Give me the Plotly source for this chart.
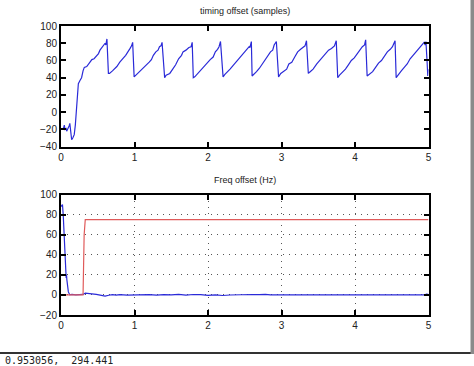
import plotly.graph_objects as go

# ---- data: timing offset (samples) ----
t_timing = [0.00, 0.02, 0.03, 0.045, 0.055, 0.07, 0.077, 0.09, 0.11, 0.12, 0.13, 0.145, 0.16, 0.18, 0.195,
            0.21, 0.225, 0.236, 0.26, 0.28, 0.30, 0.317, 0.35, 0.37, 0.40, 0.42, 0.45, 0.485, 0.51, 0.53,
            0.55, 0.575, 0.59, 0.60, 0.61, 0.625, 0.645,
            0.66, 0.70, 0.735, 0.76, 0.80, 0.825, 0.85, 0.88, 0.916, 0.94, 0.96, 0.975, 0.995,
            1.02, 1.05, 1.075, 1.10, 1.13, 1.166, 1.20, 1.23, 1.256, 1.29, 1.32, 1.34, 1.36, 1.375, 1.41,
            1.43, 1.48, 1.52, 1.56, 1.60, 1.64, 1.66, 1.70, 1.74, 1.77, 1.785, 1.80,
            1.82, 1.85, 1.88, 1.92, 1.96, 2.00, 2.03, 2.07, 2.10, 2.13, 2.15, 2.17, 2.205,
            2.23, 2.27, 2.30, 2.34, 2.38, 2.42, 2.46, 2.50, 2.53, 2.56, 2.57, 2.59, 2.60,
            2.63, 2.66, 2.70, 2.74, 2.78, 2.81, 2.85, 2.88, 2.90, 2.93, 2.96,
            2.99, 3.03, 3.07, 3.10, 3.14, 3.18, 3.22, 3.26, 3.30, 3.32, 3.34, 3.365,
            3.39, 3.43, 3.48, 3.52, 3.56, 3.60, 3.64, 3.68, 3.72, 3.745, 3.765,
            3.79, 3.83, 3.87, 3.91, 3.95, 3.99, 4.03, 4.07, 4.10, 4.13, 4.145, 4.165,
            4.20, 4.24, 4.28, 4.32, 4.36, 4.40, 4.44, 4.48, 4.51, 4.53, 4.545, 4.56,
            4.59, 4.63, 4.67, 4.71, 4.75, 4.79, 4.83, 4.87, 4.90, 4.92, 4.94, 4.955, 4.965, 4.98, 4.99, 5.00]
y_timing = [-20, -19, -20, -15, -20, -19, -22, -20, -16, -13, -22, -32, -30, -26, -15,
            -1, 20, 33, 37, 40, 48, 52, 53, 55, 58, 61, 62, 66, 68, 72,
            74, 77, 78, 80, 78, 85, 45,
            45, 48, 51, 53, 58, 61, 63, 66, 70, 74, 77, 81, 41,
            43, 45, 47, 50, 52, 55, 58, 61, 66, 70, 72, 76, 77, 81, 40,
            43, 45, 50, 55, 62, 66, 70, 72, 75, 76, 81, 40,
            41, 44, 47, 50, 55, 58, 61, 64, 70, 73, 76, 82, 41,
            44, 47, 50, 54, 58, 62, 66, 70, 73, 76, 75, 82, 42,
            44, 47, 51, 56, 62, 66, 70, 72, 78, 82, 41,
            45, 47, 50, 56, 58, 64, 70, 73, 76, 77, 83, 45,
            47, 50, 56, 60, 64, 68, 72, 74, 77, 83, 40,
            43, 46, 50, 55, 60, 63, 68, 72, 76, 78, 84, 42,
            44, 47, 52, 57, 60, 65, 70, 73, 76, 80, 83, 40,
            44, 48, 52, 56, 62, 66, 70, 74, 77, 78, 81, 78, 82, 60, 42, 50]

# ---- data: freq offset (Hz) ----
t_freq_est = [0.00, 0.02, 0.03, 0.045, 0.06, 0.065, 0.07, 0.075, 0.08, 0.09, 0.10, 0.12, 0.15, 0.20, 0.25,
              0.30, 0.33, 0.38, 0.42, 0.48, 0.55, 0.60, 0.65, 0.70, 0.75, 0.80, 0.90, 1.00, 1.10, 1.20,
              1.30, 1.40, 1.50, 1.60, 1.70, 1.80, 1.90, 2.00, 2.10, 2.20, 2.30, 2.40, 2.50, 2.60, 2.70,
              2.78, 2.85, 2.90, 3.50, 4.95, 4.97, 5.00]
y_freq_est = [88, 90, 80, 55, 30, 20, 17, 20, 15, 8, 3, 0, 0.5, 0, 0.3,
              0.5, 1.8, 1.5, 1, 0.5, -0.5, -1.2, -0.3, 0.2, -0.2, 0.3, -0.2, 0, -0.3, 0.2,
              -0.2, 0.3, 0, 0.5, -0.2, 0.4, 0.2, -0.4, 0, -0.6, -0.1, 0.3, 0.1, 0.4, 0.2,
              0.5, 0, 0, 0, 0, 0.8, 0.5]
t_freq_true = [0.00, 0.30, 0.305, 0.315, 0.33, 5.00]
y_freq_true = [0, 0, 20, 60, 75, 75]

x_ticks = [0, 1, 2, 3, 4, 5]
top_y_ticks = [-40, -20, 0, 20, 40, 60, 80, 100]
bot_y_ticks = [-20, 0, 20, 40, 60, 80, 100]

titles = ["timing offset (samples)", "Freq offset (Hz)"]
status_text = "0.953056,  294.441"

W, H = 474, 366
BLUE = "#2a2ad8"
RED = "#e05a5a"

fig = go.Figure()
fig.add_trace(go.Scatter(x=t_timing, y=y_timing, mode="lines",
                         line=dict(color=BLUE, width=1.2), xaxis="x", yaxis="y", showlegend=False))
fig.add_trace(go.Scatter(x=t_freq_est, y=y_freq_est, mode="lines",
                         line=dict(color=BLUE, width=1.2), xaxis="x2", yaxis="y2", showlegend=False))
fig.add_trace(go.Scatter(x=t_freq_true, y=y_freq_true, mode="lines",
                         line=dict(color=RED, width=1.2), xaxis="x2", yaxis="y2", showlegend=False))

xd = [61 / W, 428.5 / W]
top_dom = [1 - 146.7 / H, 1 - 26 / H]
bot_dom = [1 - 315 / H, 1 - 194.5 / H]

axis_common = dict(showline=True, linecolor="black", linewidth=2, mirror="ticks",
                   ticks="inside", ticklen=5, tickwidth=1.5, tickcolor="black",
                   tickfont=dict(family="Liberation Sans, Arial", size=10, color="#222"),
                   zeroline=False, fixedrange=True, automargin=False)

fig.update_layout(
    width=W, height=H,
    margin=dict(l=0, r=0, t=0, b=0, pad=0),
    paper_bgcolor="white", plot_bgcolor="white",
    hovermode=False,
    xaxis=dict(domain=xd, range=[0, 5], tickvals=x_ticks, anchor="y", showgrid=False, **axis_common),
    yaxis=dict(domain=top_dom, range=[-40, 100], tickvals=top_y_ticks, anchor="x", showgrid=False, **axis_common),
    xaxis2=dict(domain=xd, range=[0, 5], tickvals=x_ticks, anchor="y2", showgrid=True,
                gridcolor="#555", gridwidth=1, griddash="1px,5px", **axis_common),
    yaxis2=dict(domain=bot_dom, range=[-20, 100], tickvals=bot_y_ticks, anchor="x2", showgrid=True,
                gridcolor="#555", gridwidth=1, griddash="1px,5px", **axis_common),
    annotations=[
        dict(text=titles[0], x=244.7 / W, y=1 - 11 / H, xref="paper", yref="paper", yanchor="middle",
             showarrow=False, font=dict(family="Liberation Sans, Arial", size=9, color="#222")),
        dict(text=titles[1], x=244.7 / W, y=1 - 180 / H, xref="paper", yref="paper", yanchor="middle",
             showarrow=False, font=dict(family="Liberation Sans, Arial", size=9, color="#222")),
        dict(text=status_text, x=3 / W, y=1 - 360 / H, xref="paper", yref="paper",
             xanchor="left", yanchor="middle",
             showarrow=False, font=dict(family="DejaVu Sans Mono, monospace", size=10, color="#222")),
    ],
    shapes=[
        dict(type="line", xref="paper", yref="paper", x0=0, x1=471 / W, y0=1 - 353 / H, y1=1 - 353 / H,
             line=dict(color="#333", width=2)),
        dict(type="rect", xref="paper", yref="paper", x0=470.5 / W, x1=1, y0=1 - 354 / H, y1=1,
             line=dict(width=0), fillcolor="#8a8a8a"),
    ],
)

fig.write_html("out.html", config={"displayModeBar": False},
               post_script="document.body.style.margin='0';document.body.style.overflow='hidden';")
